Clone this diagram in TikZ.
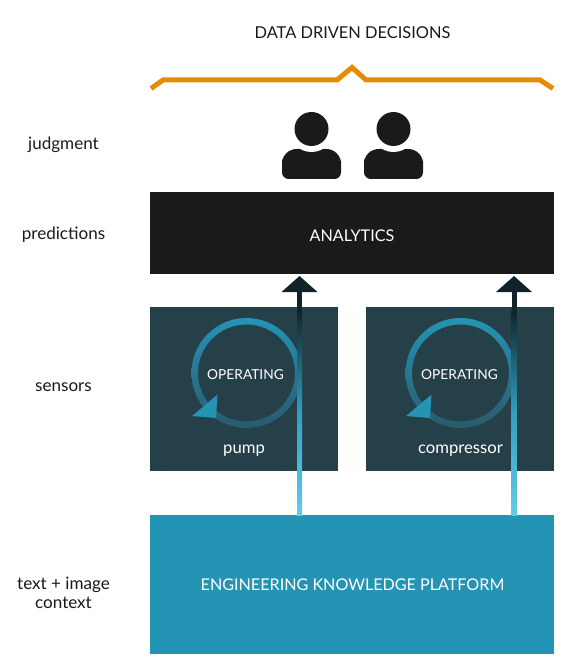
\documentclass[tikz,border=0pt]{standalone}
\usepackage{fontspec}
\setmainfont{Lato}
\usetikzlibrary{arrows.meta,calc}
\definecolor{inkblack}{HTML}{1A1A1A}
\definecolor{sensorslate}{HTML}{264049}
\definecolor{platformblue}{HTML}{2494B5}
\definecolor{bracketorange}{HTML}{E88A05}
\definecolor{arrowdark}{HTML}{10232B}
\definecolor{arrowlight}{HTML}{63CCE8}
\definecolor{ringdark}{HTML}{2A5A6C}
\tikzset{
	panel/.style={inner sep=0pt, text=white, font=\fontsize{12.1}{14}\selectfont},
	rowlabel/.style={text=inkblack, align=center, font=\fontsize{12.8}{14.4}\selectfont},
	boxtext/.style={text=white, inner sep=0pt, font=\fontsize{12.5}{14}\selectfont},
	statetext/.style={text=white, inner sep=0pt, font=\fontsize{10.3}{12}\selectfont},
	flowarrow/.style={line width=3.75pt, arrowdark, -{Triangle[width=26.25pt,length=12pt]}}
}
\begin{document}
\begin{tikzpicture}[x=0.75pt, y=-0.75pt]
	\useasboundingbox (0,0) rectangle (570,670);

	% Title and bracket
	\node[rowlabel, font=\fontsize{12.3}{14}\selectfont] (title) at (352.5,33) {DATA DRIVEN DECISIONS};
	\draw[bracketorange, line width=3.75pt, miter limit=4] (151,88.5) -- (163,80) -- (337,80) -- (352,67.5) -- (366,80) -- (540,80) -- (553,88.5);

	% Row labels
	\node[rowlabel] (judgment) at (63.5,145) {judgment};
	\node[rowlabel] (predictions) at (63.5,235) {predictions};
	\node[rowlabel] (sensors) at (63.5,387) {sensors};
	\node[rowlabel] (context) at (63.5,592.5) {text + image\\context};

	% People
	\foreach \px in {311.5,393.5} {
		\fill[inkblack, rounded corners=5pt] (\px-29.5,179) -- (\px-29.5,165)
			[rounded corners=11pt] -- (\px-29.5,149) -- (\px+29.5,149)
			[rounded corners=5pt] -- (\px+29.5,165) -- (\px+29.5,179) -- cycle;
		\fill[white] (\px,129) circle (23);
		\fill[inkblack] (\px,129) circle (17);
	}

	% Main panels
	\node[panel, fill=inkblack, minimum width=303pt, minimum height=61.5pt] (analytics) at (352,233) {};
	\node[panel] (analyticstext) at (352,236) {ANALYTICS};
	\node[panel, fill=sensorslate, minimum width=141pt, minimum height=123pt] (pump) at (244,389) {};
	\node[panel, fill=sensorslate, minimum width=141pt, minimum height=123pt] (compressor) at (460,389) {};
	\node[panel, fill=platformblue, minimum width=303pt, minimum height=104.25pt] (platform) at (352,584.5) {};
	\node[panel] (platformtext) at (352.5,585) {ENGINEERING KNOWLEDGE PLATFORM};

	% Operating rings
	\foreach \cx in {246.5,460.5} {
		\shade[even odd rule, shading angle=45, top color=platformblue, middle color=platformblue, bottom color=ringdark] (\cx,373) circle (55) (\cx,373) circle (48.5);
		\fill[platformblue] (\cx-54.5,416) -- (\cx-29,394.5) -- (\cx-30.5,418) -- cycle;
	}
	\node[statetext] (pumpstate) at (245.5,375) {OPERATING};
	\node[statetext] (compstate) at (459.5,375) {OPERATING};
	\node[boxtext] (pumpname) at (244,451) {pump};
	\node[boxtext] (compname) at (460.5,451) {compressor};

	% Arrows up into analytics
	\coordinate (pumpfoot) at (299.5,515);
	\coordinate (pumptip) at (299.5,276);
	\coordinate (compfoot) at (514,515);
	\coordinate (comptip) at (514,276);
	\draw[flowarrow] (pumpfoot) -- (pumptip);
	\draw[flowarrow] (compfoot) -- (comptip);
	\foreach \foot in {pumpfoot,compfoot} {
		\shade[bottom color=arrowlight, top color=arrowdark, middle color=platformblue!80!arrowlight]
			($(\foot)+(-2.5,0)$) rectangle ($(\foot)+(2.5,-205)$);
	}
\end{tikzpicture}
\end{document}
